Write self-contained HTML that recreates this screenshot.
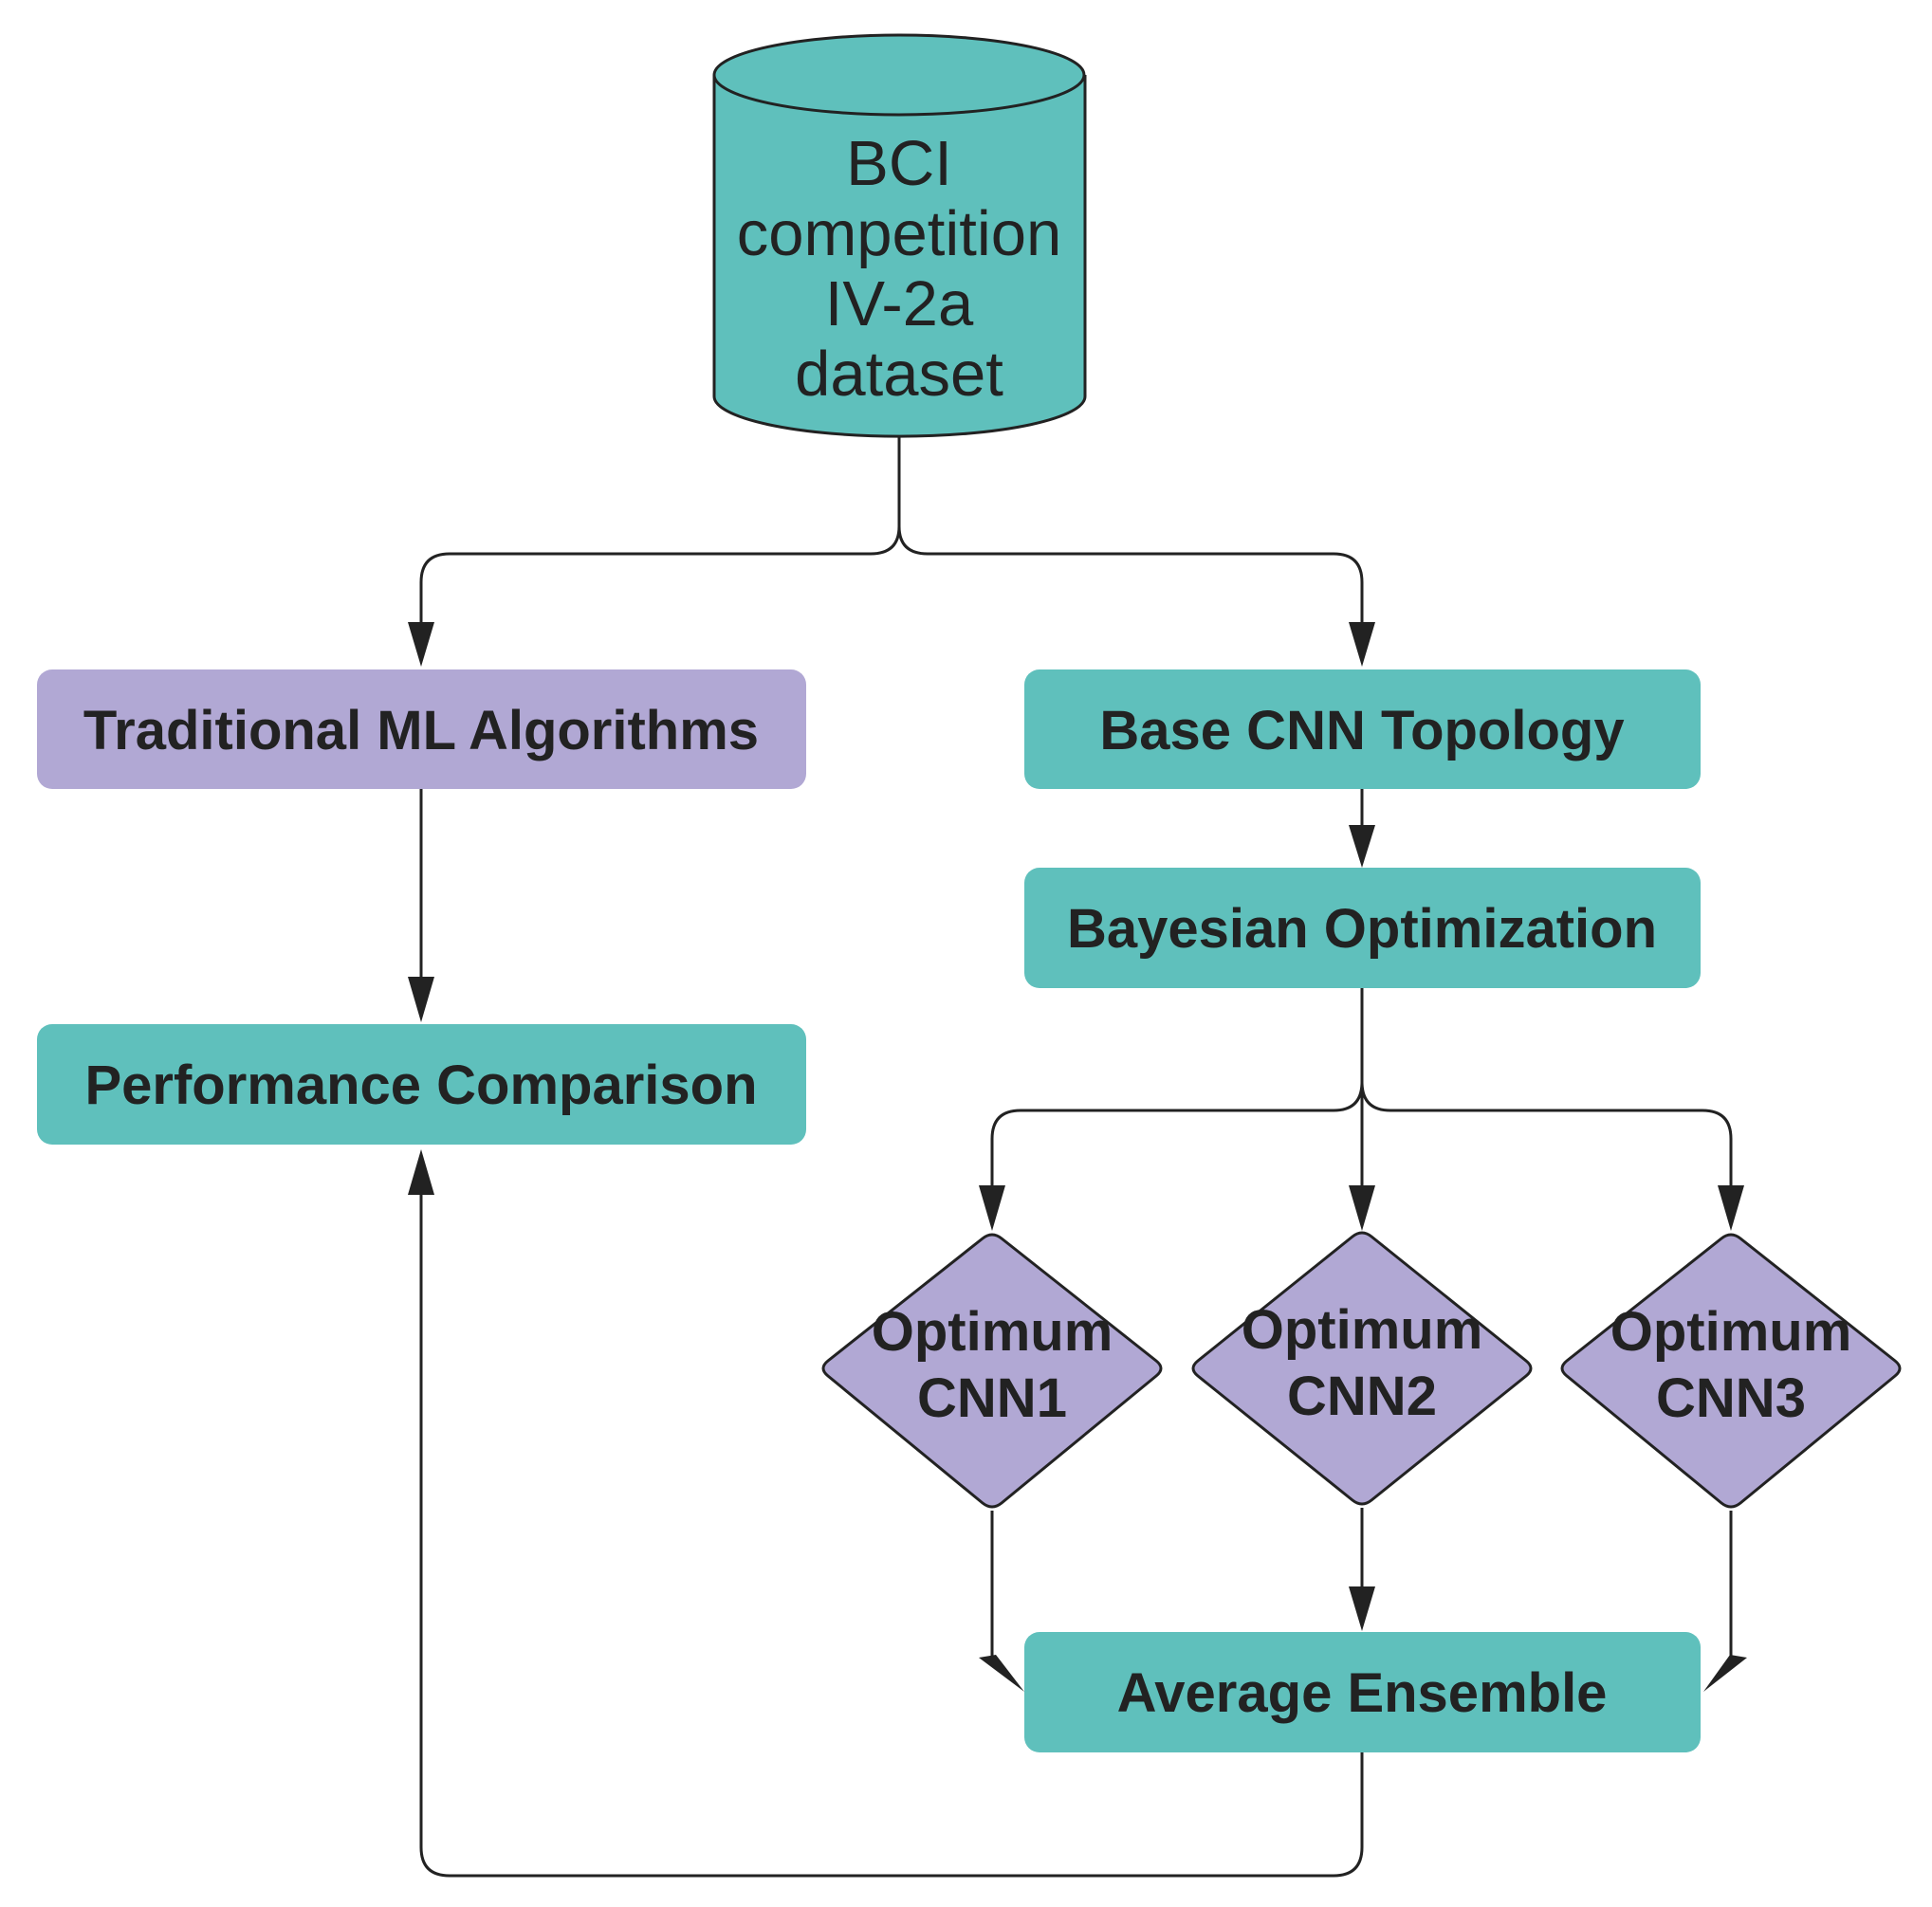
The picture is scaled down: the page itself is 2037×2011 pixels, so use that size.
<!DOCTYPE html>
<html><head><meta charset="utf-8"><style>
html,body{margin:0;padding:0;background:#fff;}
svg{display:block;}
text{font-family:"Liberation Sans",sans-serif;fill:#222;text-anchor:middle;}
.b{font-weight:bold;font-size:58px;}
.d{font-weight:bold;font-size:58px;}
</style></head><body>
<svg width="2037" height="2011" viewBox="0 0 2037 2011" xmlns="http://www.w3.org/2000/svg">
<g stroke="#222" stroke-width="3" fill="none">
<path d="M948 460 V555 Q948 584 918 584 H474 Q444 584 444 614 V660"/>
<path d="M948 555 Q948 584 978 584 H1406 Q1436 584 1436 614 V660"/>
<path d="M444 832 V1035"/>
<path d="M1436 832 V875"/>
<path d="M1436 1042 V1141 Q1436 1171 1406 1171 H1076 Q1046 1171 1046 1201 V1255"/>
<path d="M1436 1141 Q1436 1171 1466 1171 H1795 Q1825 1171 1825 1201 V1255"/>
<path d="M1436 1141 V1255"/>
<path d="M1436 1590 V1678"/>
<path d="M1046 1593 V1752"/>
<path d="M1825 1593 V1752"/>
<path d="M1436 1848 V1948 Q1436 1978 1406 1978 H474 Q444 1978 444 1948 V1255"/>
</g>
<g fill="#222">
<polygon points="430,656 458,656 444,703"/>
<polygon points="1422,656 1450,656 1436,703"/>
<polygon points="430,1030 458,1030 444,1078"/>
<polygon points="1422,870 1450,870 1436,915"/>
<polygon points="1032,1250 1060,1250 1046,1298"/>
<polygon points="1422,1250 1450,1250 1436,1298"/>
<polygon points="1811,1250 1839,1250 1825,1298"/>
<polygon points="1422,1673 1450,1673 1436,1720"/>
<polygon points="430,1260 458,1260 444,1212"/>
<polygon points="1032,1748 1050,1745 1080,1784"/>
<polygon points="1842,1748 1824,1745 1796,1784"/>
</g>
<path d="M753 79 V418 A195 42 0 0 0 1144 418 V79" fill="#5fc0bc" stroke="#222" stroke-width="3"/>
<ellipse cx="948" cy="79" rx="195" ry="42" fill="#5fc0bc" stroke="#222" stroke-width="3"/>
<text x="948" y="195" font-size="67">BCI</text>
<text x="948" y="269" font-size="67">competition</text>
<text x="948" y="343" font-size="67">IV-2a</text>
<text x="948" y="417" font-size="67">dataset</text>
<rect x="39" y="706" width="811" height="126" rx="16" fill="#b1a8d4"/>
<text class="b" x="444" y="790">Traditional ML Algorithms</text>
<rect x="1080" y="706" width="713" height="126" rx="16" fill="#5fc0bc"/>
<text class="b" x="1436" y="790">Base CNN Topology</text>
<rect x="1080" y="915" width="713" height="127" rx="16" fill="#5fc0bc"/>
<text class="b" x="1436" y="999">Bayesian Optimization</text>
<rect x="39" y="1080" width="811" height="127" rx="16" fill="#5fc0bc"/>
<text class="b" x="444" y="1164">Performance Comparison</text>
<rect x="1080" y="1721" width="713" height="127" rx="16" fill="#5fc0bc"/>
<text class="b" x="1436" y="1805">Average Ensemble</text>
<g fill="#b1a8d4" stroke="#222" stroke-width="3" stroke-linejoin="round">
<path d="M1036 1306 Q1046 1298 1056 1306 L1219 1435 Q1229 1443 1219 1451 L1056 1585 Q1046 1593 1036 1585 L873 1451 Q863 1443 873 1435 Z"/>
<path d="M1426 1304 Q1436 1296 1446 1304 L1609 1435 Q1619 1443 1609 1451 L1446 1582 Q1436 1590 1426 1582 L1263 1451 Q1253 1443 1263 1435 Z"/>
<path d="M1815 1306 Q1825 1298 1835 1306 L1998 1435 Q2008 1443 1998 1451 L1835 1585 Q1825 1593 1815 1585 L1652 1451 Q1642 1443 1652 1435 Z"/>
</g>
<text class="d" x="1046" y="1424">Optimum</text>
<text class="d" x="1046" y="1494">CNN1</text>
<text class="d" x="1436" y="1422">Optimum</text>
<text class="d" x="1436" y="1492">CNN2</text>
<text class="d" x="1825" y="1424">Optimum</text>
<text class="d" x="1825" y="1494">CNN3</text>
</svg>
</body></html>
